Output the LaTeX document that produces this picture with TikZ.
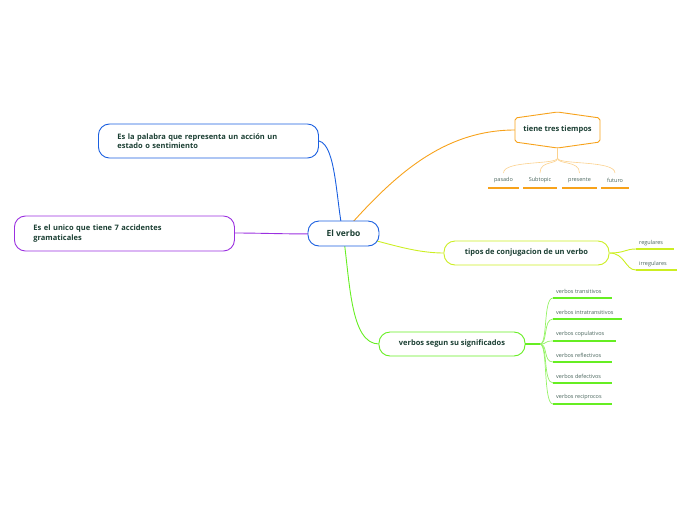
\documentclass[tikz,border=0pt]{standalone}
\usepackage{fontspec}
\setmainfont{Open Sans}
\definecolor{tx}{HTML}{1B3F33}
\definecolor{bl}{HTML}{1A5FE0}
\definecolor{pu}{HTML}{9B30E0}
\definecolor{or}{HTML}{F7A21B}
\definecolor{yg}{HTML}{CCEE22}
\definecolor{gr}{HTML}{66EE22}
\tikzset{
 main/.style={draw=#1,line width=0.9pt,rounded corners=11pt,fill=white,text=tx,font=\bfseries\fontsize{7.5}{9.5}\selectfont,inner sep=0pt},
 side/.style={main=#1,inner xsep=19pt,align=left,text width=182pt,anchor=west},
 leaf/.style={text=tx!80,font=\fontsize{5.5}{6}\selectfont,inner sep=1pt,anchor=south west},
 ul/.style={draw=#1,line width=1.4pt},
 con/.style={draw=#1,line width=0.9pt}
}
\begin{document}
\begin{tikzpicture}[x=1pt,y=-1pt]
\useasboundingbox (0,0) rectangle (696,520);
\coordinate (c) at (343,233);
\draw[con=bl] (c) .. controls (336,200) and (336,145) .. (319,141);
\draw[con=pu] (c) .. controls (300,235) and (270,233) .. (234,233);
\draw[con=or] (c) .. controls (390,180) and (440,130) .. (515,130);
\draw[con=yg] (c) .. controls (380,240) and (410,253) .. (444,253);
\draw[con=gr] (c) .. controls (350,280) and (350,344) .. (379,344);
\node[main=bl,minimum width=71pt,minimum height=25pt,font=\bfseries\fontsize{8.5}{10}\selectfont] (ev) at (343.5,233.5) {El verbo};
\node[side=bl,minimum height=34pt] (a) at (98,141) {Es la palabra que representa un acción un\\estado o sentimiento};
\node[side=pu,minimum height=35pt] (b) at (14,233.5) {Es el unico que tiene 7 accidentes\\gramaticales};
\draw[or,line width=0.9pt,fill=white,rounded corners=2pt] (515,118)--(557.5,112)--(600,118)--(600,142)--(557.5,148)--(515,142)--cycle;
\node[text=tx,font=\bfseries\fontsize{7.5}{9}\selectfont] (t) at (557.5,130) {tiene tres tiempos};
\coordinate (tb) at (557.5,148);
\node[main=yg,minimum width=165pt,minimum height=24pt] (y) at (526.5,253) {tipos de conjugacion de un verbo};
\node[main=gr,minimum width=146pt,minimum height=24pt] (g) at (452,344) {verbos segun su significados};
\foreach \n/\t/\xa/\xb in {p1/pasado/488/519,p2/Subtopic/523/557,p3/presente/562/597,p4/futuro/601/629}{
 \coordinate (\n) at ({(\xa+\xb)/2},173);
 \draw[or!50,line width=0.6pt] (tb) -- (557.5,158) .. controls (557.5,165) and ({(\xa+\xb)/2},160) .. (\n);
 \node[text=tx!80,font=\fontsize{5.5}{6}\selectfont] at ({(\xa+\xb)/2},180) {\t};
 \draw[ul=or] (\xa,188) -- (\xb,188);
}
\foreach \t/\yy/\xb in {regulares/249/674,irregulares/270/677}{
 \draw[yg,line width=0.9pt] (y.east) .. controls (625,253) and (625,\yy) .. (636,\yy);
 \draw[ul=yg] (636,\yy) -- (\xb,\yy);
 \node[leaf] at (638,\yy-1.5) {\t};
}
\foreach \t/\yy/\xb in {verbos transitivos/298/612,verbos intratransitivos/319/622,verbos copulativos/341/616,verbos reflectivos/362/612,verbos defectivos/383/612,verbos reciprocos/404/612}{
 \draw[gr!70,line width=0.7pt] (g.east) -- (540,344) .. controls (548,344) and (543,\yy) .. (553,\yy);
 \draw[ul=gr] (553,\yy) -- (\xb,\yy);
 \node[leaf] at (555,\yy-3) {\t};
}
\draw[gr,line width=1.8pt] (g.east) -- (540,344);
\end{tikzpicture}
\end{document}
